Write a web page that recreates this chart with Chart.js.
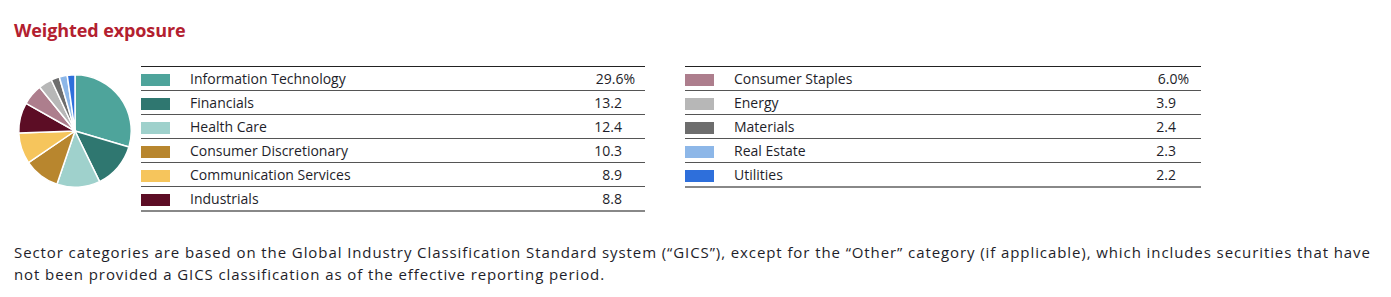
<!DOCTYPE html>
<html>
<head>
<meta charset="utf-8">
<script src="https://cdn.jsdelivr.net/npm/chart.js@4/dist/chart.umd.min.js"></script>
<style>
  body { margin: 0; width: 1391px; height: 297px; background: #fff; font-family: 'Open Sans', sans-serif; color: #1e1e2a; position: relative; overflow: hidden; }
  #title { position: absolute; left: 14px; top: 18px; font-family: 'Open Sans', sans-serif; font-weight: 700; font-size: 18px; color: #b3202f; letter-spacing: -0.1px; }
  #pieBox { position: absolute; left: 17px; top: 73px; width: 116px; height: 116px; }
  .tbl { position: absolute; top: 66px; border-top: 1px solid #222; }
  .row { position: relative; height: 23px; border-bottom: 1.5px solid #555; }
  .row:last-child { border-bottom: 2px solid #888; }
  .sw { position: absolute; left: 0; top: 7px; width: 29px; height: 12px; }
  .lab { position: absolute; left: 49px; top: 2px; font-size: 14px; line-height: 20px; }
  .val { position: absolute; top: 2px; font-size: 14px; line-height: 20px; text-align: right; }
  #note { position: absolute; left: 14px; top: 241px; font-size: 15px; line-height: 22px; white-space: nowrap; color: #1e1e2a; }
  #note span { display: inline-block; }
</style>
</head>
<body>
<div id="title">Weighted exposure</div>
<div id="pieBox"><canvas id="pie" width="116" height="116"></canvas></div>
<div class="tbl" id="leftTbl" style="left:141px; width:504px;"></div>
<div class="tbl" id="rightTbl" style="left:685px; width:516px;"></div>
<div id="note"><span id="l1">Sector categories are based on the Global Industry Classification Standard system (“GICS”), except for the “Other” category (if applicable), which includes securities that have</span><br><span id="l2">not been provided a GICS classification as of the effective reporting period.</span></div>
<script>
const sectors = ['Information Technology', 'Financials', 'Health Care', 'Consumer Discretionary', 'Communication Services', 'Industrials', 'Consumer Staples', 'Energy', 'Materials', 'Real Estate', 'Utilities'];
const weights = [29.6, 13.2, 12.4, 10.3, 8.9, 8.8, 6.0, 3.9, 2.4, 2.3, 2.2];
const colors = ['#4ea49b', '#2f7770', '#9fd1cc', '#b8862e', '#f6c55c', '#5c0d25', '#ad7e8d', '#b7b7b7', '#6d6d6d', '#8db7e8', '#2e6fdb'];

// テーブル（凡例）を作る
function buildTable(id, from, to, valRight) {
  const tbl = document.getElementById(id);
  for (let i = from; i < to; i++) {
    const row = document.createElement('div');
    row.className = 'row';
    let txt = weights[i].toFixed(1);
    if (i === from) txt += '%';
    row.innerHTML =
      '<div class="sw" style="background:' + colors[i] + '"></div>' +
      '<div class="lab">' + sectors[i] + '</div>' +
      '<div class="val" style="right:' + (i === from ? valRight - 13 : valRight) + 'px">' + txt + '</div>';
    tbl.appendChild(row);
  }
}
buildTable('leftTbl', 0, 6, 23);
buildTable('rightTbl', 6, 11, 25);

// 注記の字間を参考画像の幅に合わせる
const l1 = document.getElementById('l1');
const l2 = document.getElementById('l2');
const w = l1.getBoundingClientRect().width;
const n = l1.textContent.length;
const ls = ((1356 - w) / n).toFixed(2) + 'px';
l1.style.letterSpacing = ls;
l2.style.letterSpacing = ls;

// パイチャート
const ctx = document.getElementById('pie');
new Chart(ctx, {
  type: 'pie',
  data: {
    labels: sectors,
    datasets: [{
      data: weights,
      backgroundColor: colors,
      borderColor: '#fff',
      borderWidth: 1.5
    }]
  },
  options: {
    responsive: false,
    animation: false,
    events: [],
    layout: { padding: 1 },
    plugins: {
      legend: { display: false },
      tooltip: { enabled: false }
    }
  }
});
</script>
</body>
</html>
